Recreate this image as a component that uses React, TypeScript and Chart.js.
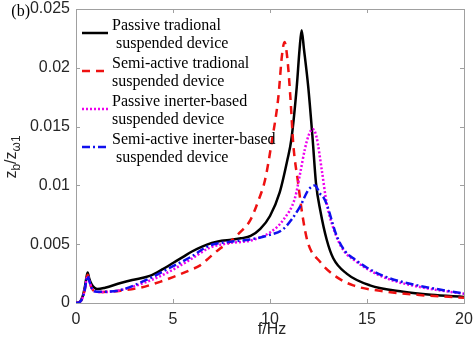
import { useEffect, useRef } from "react";
import { Chart, registerables } from "chart.js";

Chart.register(...registerables);

// ---- data ----
const freqPassiveTrad = [0, 0.2, 0.35, 0.46, 0.53, 0.6, 0.68, 0.8, 0.95, 1.1, 1.5, 2.3, 2.9, 3.8, 4.5, 5, 5.5, 6, 6.5, 7, 7.5, 8, 8.5, 9, 9.5, 10, 10.5, 10.9, 11.1, 11.38, 11.52, 11.63, 11.75, 11.97, 12.2, 12.37, 12.6, 12.92, 13.26, 13.95, 15.15, 16.87, 18.3, 20];
const valPassiveTrad = [0, 0.0001, 0.0006, 0.0014, 0.0021, 0.0026, 0.0021, 0.0016, 0.0013, 0.00118, 0.0013, 0.0017, 0.00196, 0.0023, 0.0029, 0.0034, 0.0039, 0.0044, 0.0048, 0.0051, 0.0053, 0.00537, 0.0055, 0.0057, 0.0063, 0.0074, 0.0094, 0.0122, 0.0139, 0.0184, 0.0215, 0.0232, 0.0216, 0.0184, 0.0139, 0.0102, 0.0078, 0.0054, 0.0038, 0.0025, 0.0015, 0.00096, 0.0007, 0.00052];

const freqSemiTrad = [0, 0.2, 0.35, 0.46, 0.53, 0.6, 0.68, 0.8, 0.95, 1.24, 2.3, 3.3, 4.33, 5, 5.88, 6.4, 6.9, 7.4, 7.94, 8.45, 8.97, 9.4, 9.75, 10.1, 10.43, 10.62, 10.75, 10.9, 11.05, 11.2, 11.45, 11.65, 11.94, 12.58, 13.44, 14.29, 16, 17.7, 20];
const valSemiTrad = [0, 0.0001, 0.0005, 0.0012, 0.0019, 0.0024, 0.0019, 0.0013, 0.001, 0.00094, 0.00105, 0.0013, 0.0018, 0.0022, 0.0028, 0.0032, 0.0039, 0.0046, 0.0052, 0.006, 0.007, 0.0087, 0.0105, 0.0138, 0.0175, 0.0211, 0.0222, 0.0207, 0.0175, 0.0135, 0.0102, 0.0077, 0.0052, 0.0035, 0.0022, 0.0015, 0.00096, 0.00068, 0.00045];

const freqPassiveInerter = [0, 0.2, 0.35, 0.46, 0.53, 0.6, 0.68, 0.8, 0.95, 1.25, 2.3, 3.8, 4.85, 5.9, 6.9, 7.94, 8.97, 10, 10.7, 11.3, 11.55, 11.8, 12.0, 12.2, 12.4, 12.67, 12.92, 13.44, 13.87, 14.3, 15.0, 16, 17.6, 20];
const valPassiveInerter = [0, 0.0001, 0.0005, 0.0012, 0.0019, 0.0023, 0.0019, 0.0013, 0.001, 0.00092, 0.0011, 0.0019, 0.0027, 0.0037, 0.0047, 0.0051, 0.0053, 0.006, 0.0071, 0.009, 0.011, 0.0131, 0.0143, 0.0148, 0.0141, 0.0113, 0.0085, 0.0056, 0.0043, 0.0037, 0.0029, 0.0021, 0.0014, 0.00078];

const freqSemiInerter = [0, 0.2, 0.35, 0.46, 0.53, 0.6, 0.68, 0.8, 0.95, 1.25, 2.3, 3.8, 4.85, 5.9, 6.9, 7.94, 8.97, 10, 10.69, 11.55, 11.97, 12.32, 12.58, 12.75, 12.92, 13.44, 13.87, 14.3, 15.0, 16, 17.6, 20];
const valSemiInerter = [0, 0.0001, 0.0005, 0.0012, 0.0019, 0.0023, 0.0019, 0.0013, 0.001, 0.00095, 0.0011, 0.0021, 0.003, 0.0039, 0.0049, 0.0052, 0.0054, 0.0058, 0.0063, 0.0082, 0.0096, 0.01, 0.0093, 0.009, 0.0084, 0.0057, 0.0044, 0.0038, 0.003, 0.0022, 0.0015, 0.0008];

const legendLabels = [
  ["Passive tradional", " suspended device"],
  ["Semi-active tradional", "suspended device"],
  ["Passive inerter-based", "suspended device"],
  ["Semi-active inerter-based", " suspended device"],
];
const xTicks = [0, 5, 10, 15, 20];
const yTicks = [0, 0.005, 0.01, 0.015, 0.02, 0.025];
const xTitle = "f/Hz";
const panelTag = "(b)";

const toPts = (xs: number[], ys: number[]) => xs.map((x, i) => ({ x, y: ys[i] }));
const fmt = (v: number) => String(parseFloat(v.toFixed(3)));

const frameColor = "#a0a0a0";
const textColor = "#262626";
const sansFont = "Arial, 'Liberation Sans', sans-serif";
const serifFont = "'Times New Roman', 'Liberation Serif', serif";

const decorPlugin = {
  id: "decor",
  beforeDatasetsDraw(chart: any) {
    const { ctx, chartArea: a, scales } = chart;
    ctx.save();
    ctx.strokeStyle = frameColor;
    ctx.lineWidth = 1;
    ctx.strokeRect(Math.round(a.left) + 0.5, Math.round(a.top) + 0.5, Math.round(a.right - a.left), Math.round(a.bottom - a.top));
    const tl = 4;
    ctx.beginPath();
    xTicks.forEach((v) => {
      const px = Math.round(scales.x.getPixelForValue(v)) + 0.5;
      ctx.moveTo(px, a.bottom);
      ctx.lineTo(px, a.bottom - tl);
      ctx.moveTo(px, a.top);
      ctx.lineTo(px, a.top + tl);
    });
    yTicks.forEach((v) => {
      const py = Math.round(scales.y.getPixelForValue(v)) + 0.5;
      ctx.moveTo(a.left, py);
      ctx.lineTo(a.left + tl, py);
      ctx.moveTo(a.right, py);
      ctx.lineTo(a.right - tl, py);
    });
    ctx.stroke();
    ctx.restore();
  },
  afterDraw(chart: any) {
    const { ctx, chartArea: a } = chart;
    ctx.save();
    // panel tag
    ctx.fillStyle = "#000";
    ctx.font = `16px ${serifFont}`;
    ctx.textAlign = "right";
    ctx.textBaseline = "alphabetic";
    ctx.fillText(panelTag, 30, 16);

    // x title
    ctx.fillStyle = textColor;
    ctx.font = `16px ${sansFont}`;
    ctx.textAlign = "center";
    ctx.textBaseline = "middle";
    ctx.fillText(xTitle, (a.left + a.right) / 2 + 2, 330);

    // y title  z_b / z_ω1 (rotated)
    ctx.translate(16, 157);
    ctx.rotate(-Math.PI / 2);
    const parts: [string, boolean][] = [["z", false], ["b", true], ["/z", false], ["ω1", true]];
    const big = `16px ${sansFont}`;
    const small = `12px ${sansFont}`;
    let total = 0;
    parts.forEach(([t, sub]) => {
      ctx.font = sub ? small : big;
      total += ctx.measureText(t).width;
    });
    let cx = -total / 2;
    ctx.textAlign = "left";
    ctx.textBaseline = "alphabetic";
    parts.forEach(([t, sub]) => {
      ctx.font = sub ? small : big;
      ctx.fillText(t, cx, sub ? 4 : 0);
      cx += ctx.measureText(t).width;
    });
    ctx.restore();

    // legend
    ctx.save();
    const ds = chart.data.datasets;
    ctx.font = `16px ${serifFont}`;
    ctx.textAlign = "left";
    ctx.textBaseline = "middle";
    legendLabels.forEach((lines, i) => {
      const y0 = 26 + i * 38;
      const d = ds[i];
      ctx.strokeStyle = d.borderColor;
      ctx.lineWidth = d.borderWidth;
      ctx.setLineDash(d.borderDash || []);
      ctx.beginPath();
      ctx.moveTo(82, y0 + 7);
      ctx.lineTo(108, y0 + 7);
      ctx.stroke();
      ctx.setLineDash([]);
      ctx.fillStyle = "#000";
      lines.forEach((t, j) => ctx.fillText(t, 112, y0 + j * 18));
    });
    ctx.restore();
  },
};

export default function App() {
  const ref = useRef<HTMLCanvasElement>(null);
  useEffect(() => {
    document.body.style.margin = "0";
    const base = { pointRadius: 0, fill: false, cubicInterpolationMode: "monotone" as const, borderWidth: 2.5 };
    const chart = new Chart(ref.current!, {
      type: "line",
      data: {
        datasets: [
          { ...base, label: "Passive tradional suspended device", data: toPts(freqPassiveTrad, valPassiveTrad), borderColor: "#000000", order: 3 },
          { ...base, label: "Semi-active tradional suspended device", data: toPts(freqSemiTrad, valSemiTrad), borderColor: "#ee1111", borderDash: [8, 6], order: 2 },
          { ...base, label: "Passive inerter-based suspended device", data: toPts(freqPassiveInerter, valPassiveInerter), borderColor: "#ee00ee", borderDash: [2, 2], order: 1 },
          { ...base, label: "Semi-active inerter-based suspended device", data: toPts(freqSemiInerter, valSemiInerter), borderColor: "#1010ee", borderDash: [8, 3, 2, 3], order: 0 },
        ] as any,
      },
      options: {
        responsive: false,
        animation: false,
        devicePixelRatio: 1,
        layout: { padding: { top: 9, right: 10, left: 0, bottom: 0 } },
        plugins: { legend: { display: false }, tooltip: { enabled: false }, title: { display: false } },
        scales: {
          x: {
            type: "linear",
            min: 0,
            max: 20,
            afterFit: (s: any) => { s.height = 45; s.paddingLeft = 0; s.paddingRight = 0; },
            afterBuildTicks: (s: any) => { s.ticks = xTicks.map((v) => ({ value: v })); },
            ticks: { color: textColor, font: { size: 16, family: sansFont }, padding: 7, callback: (v: any) => fmt(Number(v)) },
            grid: { display: false, drawTicks: false },
            border: { display: false },
          },
          y: {
            type: "linear",
            min: 0,
            max: 0.025,
            afterFit: (s: any) => { s.width = 76; s.paddingTop = 0; s.paddingBottom = 0; },
            afterBuildTicks: (s: any) => { s.ticks = yTicks.map((v) => ({ value: v })); },
            ticks: { color: textColor, font: { size: 16, family: sansFont }, padding: 6, callback: (v: any) => fmt(Number(v)) },
            grid: { display: false, drawTicks: false },
            border: { display: false },
          },
        },
      },
      plugins: [decorPlugin],
    });
    return () => chart.destroy();
  }, []);
  return (
    <div style={{ width: 474, height: 348, position: "relative", background: "#fff" }}>
      <canvas ref={ref} width={474} height={348} style={{ display: "block" }} />
    </div>
  );
}
